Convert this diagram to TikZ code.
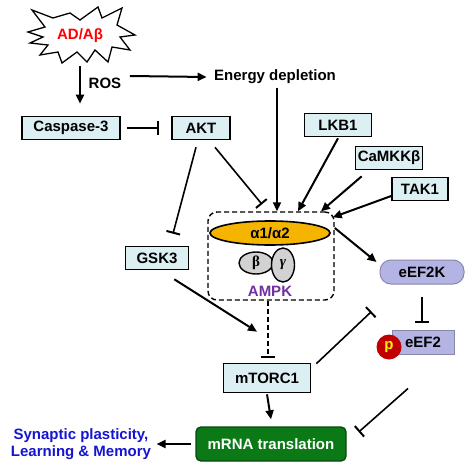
\documentclass[tikz,border=0pt]{standalone}
\usepackage{fontspec}
\setmainfont{Liberation Sans}
\newfontfamily\gkserif{Liberation Serif}
\usepackage{xcolor}
\usetikzlibrary{arrows.meta,shapes.geometric}
\definecolor{boxfill}{HTML}{DCEFF2}
\definecolor{kinfill}{HTML}{B4B4E4}
\definecolor{alphafill}{HTML}{F5B400}
\definecolor{subfill}{HTML}{D2D2D2}
\definecolor{transgreen}{HTML}{0B7A16}
\definecolor{ampkpurple}{HTML}{7030A0}
\definecolor{outblue}{HTML}{1414D2}
\definecolor{pred}{HTML}{C00000}

\begin{document}
\begin{tikzpicture}[x=1pt, y=-1pt, font=\fontsize{15}{17}\selectfont\bfseries,
  bx/.style={draw, line width=1.6pt, fill=boxfill, inner sep=2pt,
             minimum height=23pt},
  kin/.style={draw=kinfill!75!black, line width=1pt, fill=kinfill, inner sep=2pt,
             minimum height=24pt},
  sub/.style={ellipse, draw, line width=1.4pt, fill=subfill, inner sep=0pt},
  arr/.style={-{Triangle[length=9pt, width=8pt]}, line width=2pt},
  inh/.style={-{Bar[width=14pt, line width=2pt]}, line width=1.6pt},
  dsh/.style={dash pattern=on 5pt off 3pt},
  lab/.style={align=center}]

\useasboundingbox (0,0) rectangle (474,476);

\draw[line width=1.3pt, line join=miter, fill=white]
  (32,10) -- (53,18) -- (70,13) -- (80,20) -- (98,7) -- (102,18) -- (122,8)
  -- (117,25) -- (135,35) -- (120,37) -- (130,50) -- (112,47) -- (108,62)
  -- (95,50) -- (87,62) -- (77,52) -- (62,63) -- (58,52) -- (40,55) -- (48,45)
  -- (30,43) -- (43,37) -- (28,32) -- (45,27) -- cycle;
\node[text=red] (ad) at (80,36) {AD/Aβ};
\coordinate (adfoot) at (80,66);
\node (ros) at (105,83) {ROS};
\node (energy) at (275,77) {Energy depletion};

\node[bx, minimum width=98pt] (casp) at (71,128) {Caspase-3};
\node[bx, minimum width=58pt] (akt) at (201,128) {AKT};
\node[bx, minimum width=67pt] (lkb1) at (338,125) {LKB1};
\node[bx, minimum width=67pt] (camkk) at (389,158) {CaMKKβ};
\node[bx, minimum width=56pt] (tak1) at (420,189) {TAK1};
\node[bx, minimum width=63pt] (gsk3) at (157,258) {GSK3};

\node[draw, dsh, rounded corners=9pt, line width=1.4pt,
      minimum width=126pt, minimum height=88pt] (ampk) at (271,256) {};
\node[ellipse, draw, line width=1.6pt, fill=alphafill, minimum width=120pt,
      minimum height=24pt, inner sep=0pt] (alpha) at (270,233) {α1/α2};
\node[sub, minimum width=34pt, minimum height=22pt] (beta) at (256,263) {\gkserif β};
\node[sub, minimum width=23pt, minimum height=34pt] (gamma) at (283,265) {\gkserif\itshape γ};
\node[text=ampkpurple] (ampklab) at (270,291) {AMPK};

\node[kin, rounded corners=11pt, minimum width=84pt] (eef2k) at (422,272) {eEF2K};
\node[kin, minimum width=62pt] (eef2) at (423,342) {eEF2};
\node[circle, fill=pred, text=yellow, inner sep=0pt, minimum size=25pt] (p) at (389,347) {p};

\node[bx, minimum width=87pt, minimum height=29pt] (mtorc1) at (267,378) {mTORC1};
\node[draw=transgreen!60!black, line width=1.4pt, fill=transgreen, text=white,
      rounded corners=5pt, minimum width=150pt, minimum height=34pt] (mrna) at (271,444) {mRNA translation};
\node[lab, text=outblue] (syn) at (81,444) {Synaptic plasticity,\\Learning \& Memory};

\draw[arr] (adfoot) -- ([xshift=9pt, yshift=12pt]casp.north);
\draw[arr] ([xshift=5pt, yshift=7pt]ros.east) -- ([xshift=-4pt]energy.west);
\draw[arr] ([xshift=2pt]energy.south) -- ([xshift=6pt]ampk.north);
\draw[arr] ([yshift=-1pt]lkb1.south) -- ([xshift=27pt]ampk.north);
\draw[arr] ([xshift=7pt, yshift=-6pt]camkk.south west) -- ([xshift=50pt]ampk.north);
\draw[arr] ([yshift=-7pt]tak1.west) -- ([xshift=-2pt, yshift=-6pt]ampk.north east);
\draw[inh] (casp.east) ++(6pt,0) -- ([xshift=-12pt]akt.west);
\draw[inh] ([xshift=14pt, yshift=-7pt]akt.south) -- ([xshift=-9pt, yshift=7pt]ampk.north);
\draw[inh] ([xshift=-5pt, yshift=-7pt]akt.south) -- ([xshift=16pt, yshift=12pt]gsk3.north);
\draw[arr] ([xshift=-15pt, yshift=-9pt]gsk3.south east) -- ([xshift=-10pt, yshift=31pt]mtorc1.north);
\draw[inh, dsh] ([xshift=-3pt]ampk.south) -- ([xshift=1pt, yshift=5pt]mtorc1.north);
\draw[arr] (alpha.east) ++(4pt,5pt) -- ([xshift=-3pt, yshift=10pt]eef2k.west);
\draw[inh] ([xshift=5pt, yshift=-1pt]mtorc1.north east) -- ([xshift=-8pt, yshift=-27pt]eef2k.south west);
\draw[inh] ([yshift=-12pt]eef2k.south) -- ([xshift=-1pt, yshift=7pt]eef2.north);
\draw[arr] ([yshift=-1pt]mtorc1.south) -- ([yshift=7pt]mrna.north);
\draw[inh] ([xshift=-15pt, yshift=-34pt]eef2.south) -- ([xshift=12pt, yshift=12pt]mrna.east);
\draw[arr] ([xshift=-4pt]mrna.west) -- ([xshift=2pt]syn.east);
\end{tikzpicture}
\end{document}
